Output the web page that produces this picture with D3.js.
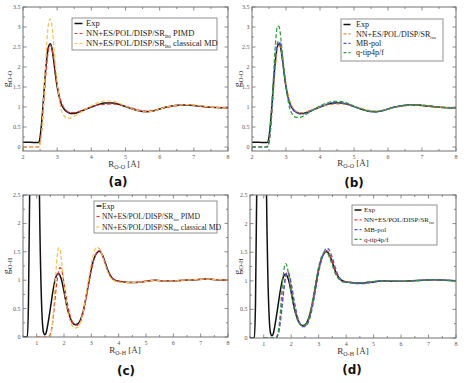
<!DOCTYPE html>
<html><head><meta charset="utf-8">
<script src="https://cdn.jsdelivr.net/npm/d3@7"></script>
<style>body{margin:0;background:#fff}svg{display:block}</style>
</head><body>
<svg id="c" width="474" height="383"></svg>
<script>
// ---------- DATA ----------
const xOO = [2.0,2.2,2.4,2.45,2.5,2.55,2.6,2.65,2.7,2.75,2.8,2.85,2.9,2.95,3.0,3.1,3.2,3.3,3.4,3.5,3.6,3.8,4.0,4.2,4.4,4.6,4.8,5.0,5.2,5.4,5.6,5.8,6.0,6.2,6.4,6.6,6.8,7.0,7.2,7.4,7.6,7.8,8.0];
const expOO = [0.12,0.12,0.11,0.11,0.25,0.65,1.2,1.8,2.25,2.52,2.58,2.45,2.15,1.8,1.5,1.12,0.95,0.87,0.84,0.84,0.86,0.93,1.0,1.06,1.1,1.1,1.07,1.01,0.95,0.9,0.88,0.9,0.95,1.0,1.03,1.05,1.05,1.04,1.02,1.0,0.99,0.98,0.98];
const pimdOO = [0,0,0,0,0.1,0.45,1.0,1.6,2.1,2.45,2.55,2.45,2.2,1.88,1.58,1.18,0.98,0.89,0.86,0.86,0.88,0.94,1.0,1.05,1.07,1.08,1.06,1.02,0.97,0.92,0.9,0.91,0.95,0.99,1.02,1.04,1.05,1.04,1.02,1.0,0.99,0.99,0.98];
const classOO = [0,0,0,0,0.05,0.4,1.1,1.9,2.65,3.1,3.2,3.0,2.55,2.05,1.6,1.0,0.78,0.72,0.73,0.77,0.82,0.93,1.03,1.11,1.15,1.15,1.1,1.03,0.95,0.9,0.88,0.9,0.95,1.0,1.03,1.05,1.06,1.05,1.03,1.01,0.99,0.98,0.98];
const mbpolOO = [0,0,0,0,0.12,0.5,1.1,1.75,2.3,2.6,2.65,2.5,2.2,1.85,1.52,1.12,0.94,0.86,0.83,0.83,0.85,0.93,1.01,1.07,1.1,1.1,1.07,1.01,0.95,0.9,0.88,0.9,0.95,1.0,1.03,1.05,1.06,1.05,1.03,1.01,0.99,0.98,0.98];
const qtipOO = [0,0,0,0.02,0.15,0.6,1.3,2.05,2.7,3.02,3.0,2.7,2.3,1.88,1.5,1.0,0.8,0.74,0.74,0.77,0.82,0.93,1.03,1.1,1.14,1.14,1.1,1.02,0.95,0.9,0.88,0.9,0.95,1.0,1.03,1.05,1.06,1.05,1.03,1.01,0.99,0.98,0.98];

const xOHexp = [0.5,0.6,0.66,0.7,0.75,0.8,0.9,0.97,1.05,1.1,1.15,1.2,1.25,1.3,1.35,1.4,1.5,1.6,1.7,1.8,1.9,2.0,2.1,2.2,2.3,2.4,2.5,2.6,2.7,2.8,2.9,3.0,3.1,3.2,3.3,3.4,3.5,3.6,3.7,3.8,4.0,4.2,4.4,4.6,4.8,5.0,5.3,5.6,6.0,6.4,6.8,7.2,7.6,8.0];
const expOH = [0,0,0,0.6,2.8,6,12,14,6,2.6,1.1,0.35,0.08,0.04,0.08,0.2,0.5,0.82,1.05,1.12,1.02,0.8,0.55,0.37,0.26,0.22,0.23,0.3,0.45,0.68,0.95,1.2,1.38,1.48,1.51,1.45,1.32,1.18,1.08,1.02,0.98,0.97,0.96,0.96,0.97,0.98,1.0,0.99,0.99,1.0,1.01,1.02,1.01,1.0];
const xOH = [1.0,1.4,1.45,1.5,1.55,1.6,1.65,1.7,1.75,1.8,1.85,1.9,1.95,2.0,2.1,2.2,2.3,2.4,2.5,2.6,2.7,2.8,2.9,3.0,3.1,3.2,3.3,3.4,3.5,3.6,3.7,3.8,4.0,4.2,4.4,4.6,4.8,5.0,5.3,5.6,6.0,6.4,6.8,7.2,7.6,8.0];
const pimdOH = [0,0,0.01,0.05,0.15,0.32,0.55,0.8,1.0,1.15,1.22,1.2,1.1,0.95,0.66,0.42,0.27,0.21,0.21,0.27,0.42,0.65,0.92,1.18,1.37,1.49,1.52,1.45,1.32,1.18,1.08,1.02,0.98,0.97,0.96,0.96,0.97,0.98,1.0,0.99,0.99,1.0,1.01,1.02,1.01,1.0];
const classOH = [0,0,0,0.02,0.12,0.38,0.75,1.12,1.42,1.57,1.55,1.38,1.15,0.92,0.55,0.32,0.2,0.16,0.17,0.26,0.45,0.72,1.02,1.3,1.5,1.58,1.55,1.44,1.28,1.14,1.05,1.0,0.97,0.96,0.96,0.96,0.97,0.98,1.0,0.99,0.99,1.0,1.01,1.02,1.01,1.0];
const nnOH = [0,0,0.01,0.05,0.15,0.32,0.55,0.78,0.95,1.1,1.15,1.13,1.05,0.92,0.64,0.41,0.27,0.21,0.21,0.27,0.42,0.65,0.92,1.18,1.37,1.49,1.53,1.46,1.33,1.19,1.08,1.02,0.98,0.97,0.96,0.96,0.97,0.98,1.0,0.99,0.99,1.0,1.01,1.02,1.01,1.0];
const mbpolOH = [0,0,0,0.03,0.1,0.25,0.45,0.68,0.9,1.06,1.14,1.15,1.08,0.96,0.68,0.43,0.27,0.2,0.2,0.25,0.38,0.6,0.87,1.14,1.36,1.51,1.57,1.53,1.4,1.24,1.11,1.03,0.97,0.96,0.95,0.95,0.96,0.98,1.0,1.0,0.99,1.0,1.01,1.02,1.01,1.0];
const qtipOH = [0,0,0.01,0.05,0.18,0.42,0.75,1.05,1.24,1.3,1.25,1.12,0.96,0.8,0.53,0.35,0.25,0.22,0.23,0.3,0.47,0.72,1.0,1.25,1.42,1.5,1.49,1.4,1.26,1.13,1.05,1.0,0.97,0.97,0.97,0.97,0.98,0.99,1.0,1.0,0.99,1.0,1.01,1.02,1.01,1.0];

const ticksOOx = [2,3,4,5,6,7,8];
const ticksOOy = [0,0.5,1,1.5,2,2.5,3,3.5];
const ticksOHx = [1,2,3,4,5,6,7,8];
const ticksOHy = [0,0.5,1,1.5,2,2.5];
const labelsA = [["Exp","",""],["NN+ES/POL/DISP/SR","iso"," PIMD"],["NN+ES/POL/DISP/SR","iso"," classical MD"]];
const labelsB = [["Exp","",""],["NN+ES/POL/DISP/SR","iso",""],["MB-pol","",""],["q-tip4p/f","",""]];
const panelNames = ["(a)","(b)","(c)","(d)"];

// ---------- DRAW ----------
const svg = d3.select("#c");
const SERIF = "'Liberation Serif','DejaVu Serif',serif";
let clipId = 0;

function panel(cfg){
  const x = d3.scaleLinear().domain(cfg.xd).range([cfg.x0, cfg.x1]);
  const y = d3.scaleLinear().domain(cfg.yd).range([cfg.y1, cfg.y0]);
  const g = svg.append("g");
  const id = "clip" + (clipId++);
  g.append("clipPath").attr("id", id).append("rect")
    .attr("x", cfg.x0).attr("y", cfg.y0).attr("width", cfg.x1 - cfg.x0).attr("height", cfg.y1 - cfg.y0);
  const axCol = "#707070";
  const tk = g.append("g").attr("stroke", axCol).attr("stroke-width", 0.8);
  const xmin = d3.range(cfg.xd[0], cfg.xd[1] + 1e-9, 0.5);
  xmin.forEach(v => {
    const major = Math.abs(v - Math.round(v)) < 1e-9;
    const L = major ? 3.5 : 2;
    tk.append("line").attr("x1", x(v)).attr("x2", x(v)).attr("y1", cfg.y1).attr("y2", cfg.y1 - L);
    tk.append("line").attr("x1", x(v)).attr("x2", x(v)).attr("y1", cfg.y0).attr("y2", cfg.y0 + L);
  });
  const ymin = d3.range(0, cfg.yd[1] + 1e-9, 0.25);
  ymin.forEach(v => {
    const major = Math.abs(v * 2 - Math.round(v * 2)) < 1e-9;
    const L = major ? 3.5 : 2;
    tk.append("line").attr("y1", y(v)).attr("y2", y(v)).attr("x1", cfg.x0).attr("x2", cfg.x0 + L);
    tk.append("line").attr("y1", y(v)).attr("y2", y(v)).attr("x1", cfg.x1).attr("x2", cfg.x1 - L);
  });
  cfg.tx.forEach(v => g.append("text").attr("x", x(v)).attr("y", cfg.y1 + 7.5)
    .attr("text-anchor", "middle").attr("font-family", SERIF).attr("font-size", 6).attr("fill", "#555").text(v));
  cfg.ty.forEach(v => g.append("text").attr("x", cfg.x0 - 2.5).attr("y", y(v) + 2)
    .attr("text-anchor", "end").attr("font-family", SERIF).attr("font-size", 6).attr("fill", "#555").text(v));
  const cg = g.append("g").attr("clip-path", `url(#${id})`);
  cfg.series.forEach(s => {
    const pts = s.xs.map((xv, i) => [xv, s.ys[i]]);
    cg.append("path").datum(pts)
      .attr("d", d3.line().x(d => x(d[0])).y(d => y(d[1])).curve(d3.curveMonotoneX))
      .attr("fill", "none").attr("stroke", s.color).attr("stroke-width", s.w)
      .attr("stroke-dasharray", s.dash || null);
  });
  g.append("rect").attr("x", cfg.x0).attr("y", cfg.y0).attr("width", cfg.x1 - cfg.x0).attr("height", cfg.y1 - cfg.y0)
    .attr("fill", "none").attr("stroke", axCol).attr("stroke-width", 1);
  const L = cfg.legend;
  g.append("rect").attr("x", L.x).attr("y", L.y).attr("width", L.w).attr("height", L.h)
    .attr("fill", "#fff").attr("stroke", "#777").attr("stroke-width", 0.8);
  L.labels.forEach((lab, i) => {
    const s = cfg.series[i];
    const yy = L.y + L.top + i * L.dy;
    g.append("line").attr("x1", L.x + 2.5).attr("x2", L.x + 2.5 + L.sw).attr("y1", yy).attr("y2", yy)
      .attr("stroke", s.color).attr("stroke-width", s.w).attr("stroke-dasharray", s.dash ? "3,2" : null);
    const t = g.append("text").attr("x", L.x + L.tx).attr("y", yy + L.fs * 0.33)
      .attr("font-family", SERIF).attr("font-size", L.fs).attr("fill", "#222");
    t.append("tspan").text(lab[0]);
    if (lab[1]) t.append("tspan").attr("font-size", L.fs * 0.6).attr("dy", L.fs * 0.25).text(lab[1]);
    if (lab[2]) t.append("tspan").attr("dy", lab[1] ? -L.fs * 0.25 : 0).text(lab[2]);
  });
  const xt = g.append("text").attr("x", cfg.xtx).attr("y", cfg.xty).attr("text-anchor", "middle")
    .attr("font-family", SERIF).attr("font-size", 9).attr("fill", "#333");
  xt.append("tspan").text("R");
  xt.append("tspan").attr("font-size", 6).attr("dy", 2).text(cfg.sub);
  xt.append("tspan").attr("dy", -2).text(" [Å]");
  const yt = g.append("text").attr("transform", `translate(${cfg.ytx},${(cfg.y0 + cfg.y1) / 2}) rotate(-90)`)
    .attr("text-anchor", "middle").attr("font-family", SERIF).attr("font-size", 10).attr("fill", "#333");
  yt.append("tspan").text("g");
  yt.append("tspan").attr("font-size", 6.5).attr("dy", 2).text(cfg.sub);
  g.append("text").attr("x", cfg.px).attr("y", cfg.py).attr("text-anchor", "middle")
    .attr("font-family", "'DejaVu Sans',sans-serif").attr("font-size", 12).attr("font-weight", 600)
    .attr("fill", "#111").text(cfg.name);
}

const D = "4,2.2";
panel({xd:[2,8], yd:[-0.1,3.5], x0:23, x1:228, y0:7, y1:151, tx:ticksOOx, ty:ticksOOy, sub:"O-O",
  xtx:124, xty:167, ytx:10, px:118, py:186, name:panelNames[0],
  series:[{xs:xOO, ys:expOO, color:"#111", w:1.5},
          {xs:xOO, ys:pimdOO, color:"#e0383a", w:1.2, dash:D},
          {xs:xOO, ys:classOO, color:"#f8c050", w:1.2, dash:D}],
  legend:{x:72, y:18, w:145, h:32, top:5.5, dy:10, sw:8, tx:14, fs:8.5, labels:labelsA}});

panel({xd:[2,8], yd:[-0.1,3.5], x0:252, x1:456, y0:7, y1:151, tx:ticksOOx, ty:ticksOOy, sub:"O-O",
  xtx:353, xty:166, ytx:241, px:354, py:187, name:panelNames[1],
  series:[{xs:xOO, ys:expOO, color:"#111", w:1.5},
          {xs:xOO, ys:pimdOO, color:"#f08a30", w:1.2, dash:D},
          {xs:xOO, ys:mbpolOO, color:"#3c5ad8", w:1.2, dash:D},
          {xs:xOO, ys:qtipOO, color:"#2e9a38", w:1.2, dash:D}],
  legend:{x:341, y:19, w:102, h:42, top:5.5, dy:9.4, sw:7, tx:15, fs:8, labels:labelsB}});

panel({xd:[0.5,8], yd:[0,2.5], x0:23, x1:228, y0:195, y1:337, tx:ticksOHx, ty:ticksOHy, sub:"O-H",
  xtx:125, xty:353, ytx:10, px:126, py:375, name:panelNames[2],
  series:[{xs:xOHexp, ys:expOH, color:"#111", w:1.5},
          {xs:xOH, ys:pimdOH, color:"#e0383a", w:1.2, dash:D},
          {xs:xOH, ys:classOH, color:"#f8c050", w:1.2, dash:D}],
  legend:{x:94, y:201, w:123, h:32, top:5, dy:10.5, sw:5, tx:8, fs:7.7, labels:labelsA}});

panel({xd:[0.5,8], yd:[0,2.5], x0:250, x1:456, y0:195, y1:338, tx:ticksOHx, ty:ticksOHy, sub:"O-H",
  xtx:353, xty:354, ytx:241, px:352, py:374, name:panelNames[3],
  series:[{xs:xOHexp, ys:expOH, color:"#111", w:1.5},
          {xs:xOH, ys:nnOH, color:"#e44050", w:1.2, dash:D},
          {xs:xOH, ys:mbpolOH, color:"#4a55d8", w:1.2, dash:D},
          {xs:xOH, ys:qtipOH, color:"#2e9a38", w:1.2, dash:D}],
  legend:{x:352, y:205, w:85, h:40, top:5, dy:9.8, sw:7, tx:12, fs:7, labels:labelsB}});
</script>
</body></html>
